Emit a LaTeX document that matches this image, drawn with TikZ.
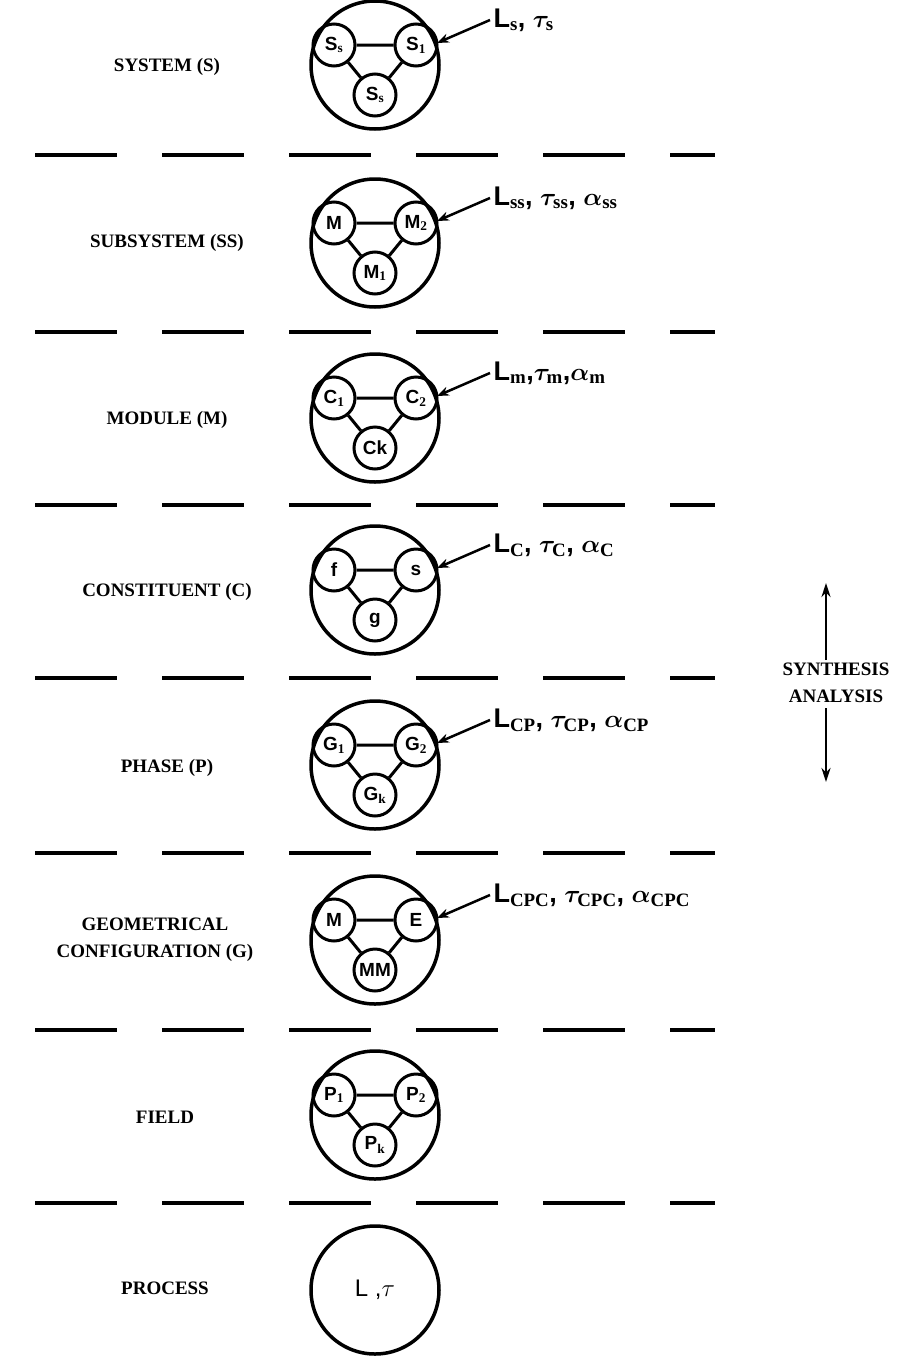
\documentclass[tikz,border=0pt]{standalone}
\usepackage{amsmath}
\usepackage{bm}
\usepackage{fontspec}
\setmainfont{Liberation Serif}
\newfontfamily\hv{Liberation Sans}
\usetikzlibrary{arrows.meta}
\begin{document}
\begin{tikzpicture}[x=1pt,y=-1pt,
 big/.style={circle,draw,line width=3.5pt,minimum size=128pt,inner sep=0pt},
 sm/.style={circle,draw,line width=3pt,minimum size=42pt,inner sep=0pt,font=\hv\bfseries\fontsize{19}{21}\selectfont},
 lvl/.style={font=\bfseries\fontsize{19}{27}\selectfont,align=center},
 sep/.style={line width=4pt,dash pattern=on 82pt off 45pt},
 lab/.style={font=\hv\bfseries\fontsize{27}{30}\selectfont,anchor=west},
 call/.style={line width=2.5pt,-{Stealth[length=12pt,width=9pt]}}]
\useasboundingbox (0,0) rectangle (913,1360);
\foreach \y/\n in {155/1,332/2,505/3,678/4,853/5,1030/6,1203/7}
  \draw[sep] (35,\y) -- (715,\y);
\newcommand\trio[5]{%
 \node[big] (B#1) at (375,#2) {};
 \node[sm] (L#1) at (334,#2-20) {#3};
 \node[sm] (R#1) at (416,#2-20) {#4};
 \node[sm] (D#1) at (375,#2+30) {#5};
 \draw[line width=3pt] (L#1)--(R#1) (L#1)--(D#1) (R#1)--(D#1);}
\trio{1}{65}{S$_{\mathbf s}$}{S$_{\mathbf 1}$}{S$_{\mathbf s}$}
\trio{2}{243}{M}{M$_{\mathbf 2}$}{M$_{\mathbf 1}$}
\trio{3}{418}{C$_{\mathbf 1}$}{C$_{\mathbf 2}$}{Ck}
\trio{4}{590}{f}{s}{g}
\trio{5}{765}{G$_{\mathbf 1}$}{G$_{\mathbf 2}$}{G$_{\mathbf k}$}
\trio{6}{940}{M}{E}{MM}
\trio{7}{1115}{P$_{\mathbf 1}$}{P$_{\mathbf 2}$}{P$_{\mathbf k}$}
\node[big] (B8) at (375,1290) {\hv\fontsize{24}{26}\selectfont L ,$\tau$};
\node[lvl] (t1) at (167,67) {SYSTEM (S)};
\node[lvl] (t2) at (167,243) {SUBSYSTEM (SS)};
\node[lvl] (t3) at (167,420) {MODULE (M)};
\node[lvl] (t4) at (167,592) {CONSTITUENT (C)};
\node[lvl] (t5) at (167,768) {PHASE (P)};
\node[lvl] (t6) at (155,940) {GEOMETRICAL\\CONFIGURATION (G)};
\node[lvl] (t7) at (165,1117) {FIELD};
\node[lvl] (t8) at (165,1288) {PROCESS};
\newcommand\callout[3]{%
 \node[lab] (K#1) at (490,#2-45) {#3};
 \coordinate (E#1) at (437,#2-22);
 \draw[call] (K#1.west) -- (E#1);}
\callout{1}{65}{L$_{\mathbf s}$, $\bm\tau_{\mathbf s}$}
\callout{2}{243}{L$_{\mathbf{ss}}$, $\bm\tau_{\mathbf{ss}}$, $\bm\alpha_{\mathbf{ss}}$}
\callout{3}{418}{L$_{\mathbf m}$,$\bm\tau_{\mathbf m}$,$\bm\alpha_{\mathbf m}$}
\callout{4}{590}{L$_{\mathbf C}$, $\bm\tau_{\mathbf C}$, $\bm\alpha_{\mathbf C}$}
\callout{5}{765}{L$_{\mathbf{CP}}$, $\bm\tau_{\mathbf{CP}}$, $\bm\alpha_{\mathbf{CP}}$}
\callout{6}{940}{L$_{\mathbf{CPC}}$, $\bm\tau_{\mathbf{CPC}}$, $\bm\alpha_{\mathbf{CPC}}$}
\node[lvl] (sa) at (836,683) {SYNTHESIS\\ANALYSIS};
\draw[line width=2.5pt,-{Stealth[length=14pt,width=9pt]}] (826,660) -- (826,583);
\draw[line width=2.5pt,-{Stealth[length=14pt,width=9pt]}] (826,708) -- (826,782);
\end{tikzpicture}
\end{document}
